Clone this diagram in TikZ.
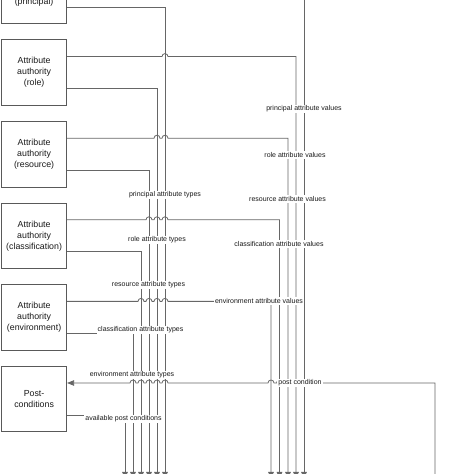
\documentclass[tikz,border=0pt]{standalone}
\usepackage{fontspec}
\setmainfont{Liberation Sans}
\usetikzlibrary{positioning,calc,arrows.meta}

% a small hump where a line passes over a column
\newcommand{\hop}[2]{-- ($(#1 -| #2)+(-3pt,0)$) arc[start angle=180,end angle=0,radius=3pt]}

\tikzset{
  >={Triangle[length=7pt,width=5.5pt]},
  box/.style={draw=black!65, line width=0.8pt, minimum width=65.2pt, minimum height=65.5pt,
    align=center, inner sep=1pt, text=black!90, font=\fontsize{8.8}{11}\selectfont},
  flow/.style={draw=black!60, line width=0.8pt, ->},
  lbl/.style={fill=white, inner sep=1pt, text=black!90, font=\fontsize{7}{8}\selectfont}
}

\begin{document}
\begin{tikzpicture}[x=1pt,y=1pt]
  \useasboundingbox (0,0) rectangle (474,474);
  \clip (0,0) rectangle (474,474);

  \node[box] (prin) at (34.1,483) {Attribute\\authority\\(principal)};
  \node[box,below=15.3pt of prin] (role) {Attribute\\authority\\(role)};
  \node[box,below=15.3pt of role] (reso) {Attribute\\authority\\(resource)};
  \node[box,below=15.3pt of reso] (clas) {Attribute\\authority\\(classification)};
  \node[box,below=15.3pt of clas] (envi) {Attribute\\authority\\(environment)};
  \node[box,below=15.3pt of envi] (post) {Post-\\conditions};

  %rows
  \coordinate (prV) at ([yshift=16pt]prin.east);
  \coordinate (prT) at ([yshift=-16pt]prin.east);
  \coordinate (roV) at ([yshift=16pt]role.east);
  \coordinate (roT) at ([yshift=-16pt]role.east);
  \coordinate (reV) at ([yshift=16pt]reso.east);
  \coordinate (reT) at ([yshift=-16pt]reso.east);
  \coordinate (clV) at ([yshift=16pt]clas.east);
  \coordinate (clT) at ([yshift=-16pt]clas.east);
  \coordinate (enV) at ([yshift=16pt]envi.east);
  \coordinate (enT) at ([yshift=-16pt]envi.east);
  \coordinate (poC) at ([yshift=16pt]post.east);
  \coordinate (poA) at ([yshift=-16pt]post.east);

  %columns
  \coordinate (tPr) at (165,-5);
  \coordinate (tRo) at (157,-5);
  \coordinate (tRe) at (149,-5);
  \coordinate (tCl) at (141,-5);
  \coordinate (tEn) at (133,-5);
  \coordinate (tAv) at (125,-5);
  \coordinate (vPr) at (304,-5);
  \coordinate (vRo) at (296,-5);
  \coordinate (vRe) at (288,-5);
  \coordinate (vCl) at (279.5,-5);
  \coordinate (vEn) at (271,-5);
  \coordinate (pcIn) at (435,-5);

  %values
  \draw[flow] (prV) -| (vPr);
  \draw[flow] (roV) \hop{roV}{tPr} -| (vRo);
  \draw[flow] (reV) \hop{reV}{tRo} \hop{reV}{tPr} -| (vRe);
  \draw[flow] (clV) \hop{clV}{tRe} \hop{clV}{tRo} \hop{clV}{tPr} -| (vCl);
  \draw[flow] (enV) \hop{enV}{tCl} \hop{enV}{tRe} \hop{enV}{tRo} \hop{enV}{tPr} -| (vEn);

  %types
  \draw[flow] (prT) -| (tPr);
  \draw[flow] (roT) -| (tRo);
  \draw[flow] (reT) -| (tRe);
  \draw[flow] (clT) -| (tCl);
  \draw[flow] (enT) -| (tEn);
  \draw[flow] (poA) -| (tAv);

  %post condition in
  \draw[flow,<-] (poC) \hop{poC}{tEn} \hop{poC}{tCl} \hop{poC}{tRe} \hop{poC}{tRo} \hop{poC}{tPr}
    \hop{poC}{vEn} \hop{poC}{vCl} \hop{poC}{vRe} \hop{poC}{vRo} \hop{poC}{vPr} -| (pcIn);

  \node[lbl] (prVl) at (304,365) {principal attribute values};
  \node[lbl] (roVl) at (295,319) {role attribute values};
  \node[lbl] (reVl) at (287.5,275) {resource attribute values};
  \node[lbl] (clVl) at (279,230) {classification attribute values};
  \node[lbl] (enVl) at (259,173) {environment attribute values};

  \node[lbl] (prTl) at (165,279) {principal attribute types};
  \node[lbl] (roTl) at (157,234) {role attribute types};
  \node[lbl] (reTl) at (148.5,189) {resource attribute types};
  \node[lbl] (clTl) at (140.5,144) {classification attribute types};
  \node[lbl] (enTl) at (132,99) {environment attribute types};
  \node[lbl] (poAl) at (123.5,55) {available post conditions};
  \node[lbl] (poCl) at (300,91) {post condition};
\end{tikzpicture}
\end{document}
